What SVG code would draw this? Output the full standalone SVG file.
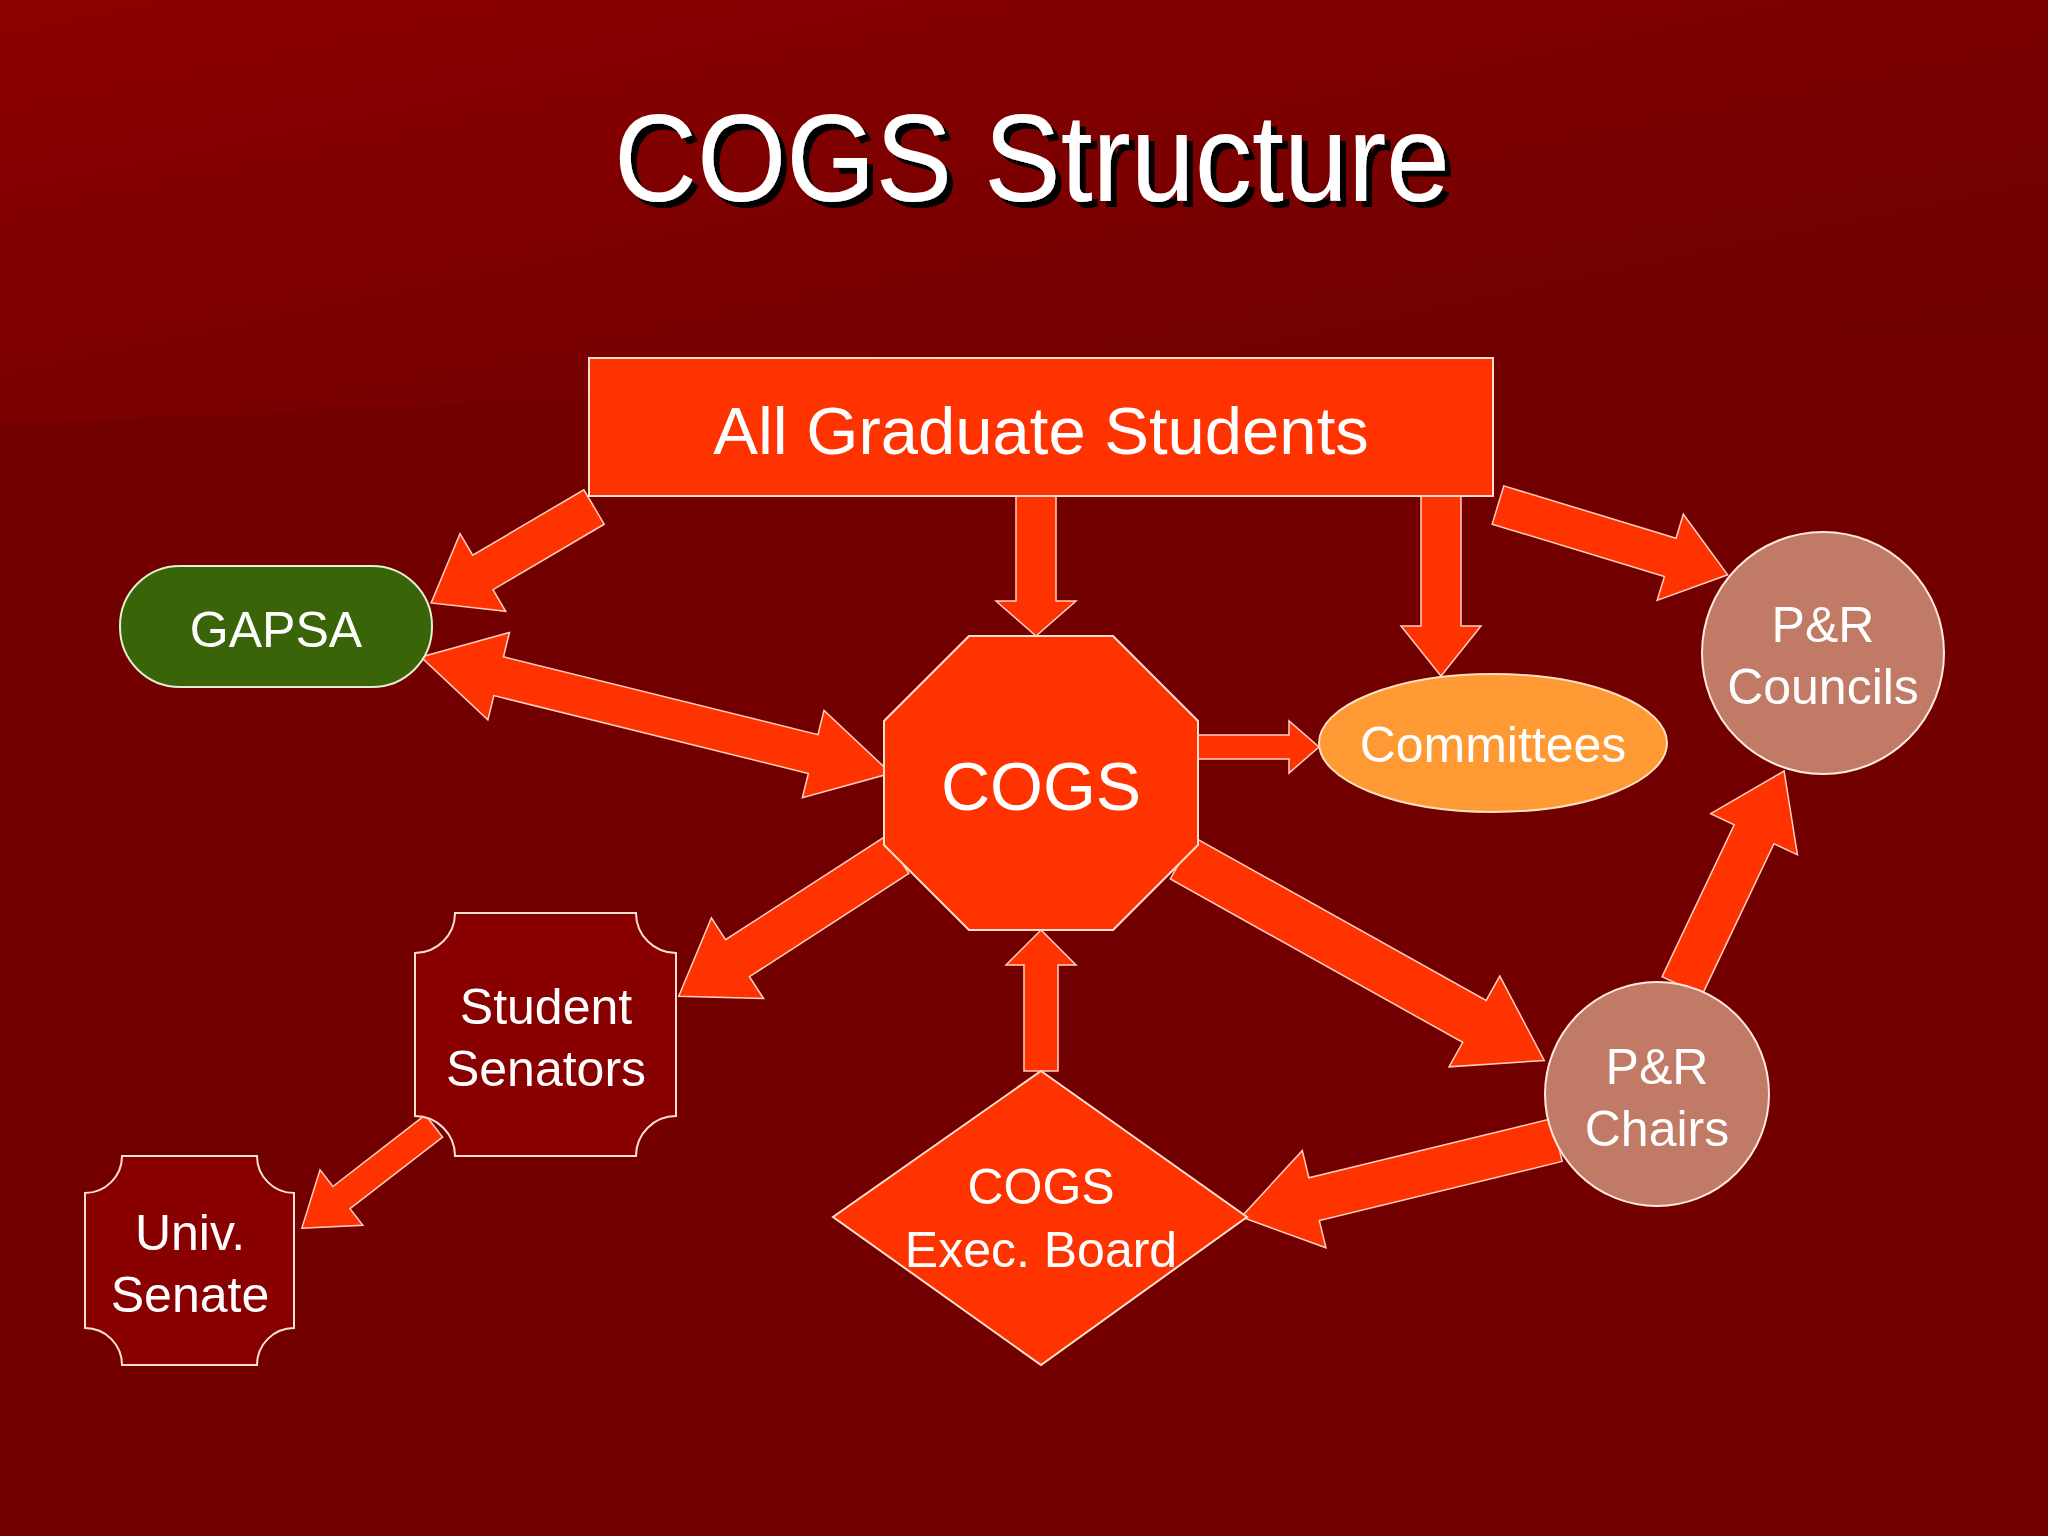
<svg xmlns="http://www.w3.org/2000/svg" width="2048" height="1536" viewBox="0 0 2048 1536">
<style>
.n{fill:#ff3300;stroke:#ffe0d0;stroke-width:2}
.a{fill:#ff3300;stroke:#ffd0c0;stroke-width:1.5}
.t{font-family:"Liberation Sans",Arial,sans-serif;fill:#fff;text-anchor:middle}
</style>
<defs>
<linearGradient id="bg" x1="0" y1="0" x2="1" y2="1">
<stop offset="0" stop-color="#8c0000"/><stop offset="1" stop-color="#6a0000"/>
</linearGradient>
<filter id="sh" x="-10%" y="-20%" width="120%" height="140%"><feDropShadow dx="6" dy="6" stdDeviation="0" flood-color="#000"/></filter>
</defs>
<rect width="2048" height="1536" fill="#720000"/>
<polygon points="0,0 2048,0 2048,330 0,425" fill="url(#bg)"/>
<text x="1032" y="201" class="t" font-size="124" filter="url(#sh)" textLength="836" lengthAdjust="spacingAndGlyphs">COGS Structure</text>
<g id="connectors">
<g transform="translate(594,507) rotate(149.5)"><polygon class="a" points="0,-20 129,-20 129,-45 189,0 129,45 129,20 0,20"/></g>
<g transform="translate(1036,496) rotate(90)"><polygon class="a" points="0,-20 105,-20 105,-40 140,0 105,40 105,20 0,20"/></g>
<g transform="translate(1441,496) rotate(90)"><polygon class="a" points="0,-20 130,-20 130,-40 180,0 130,40 130,20 0,20"/></g>
<g transform="translate(1498,505) rotate(16.9)"><polygon class="a" points="0,-20 180,-20 180,-45 240,0 180,45 180,20 0,20"/></g>
<g transform="translate(421,657) rotate(13.9)"><polygon class="a" points="0,0 80,-45 80,-20 404,-20 404,-45 484,0 404,45 404,20 80,20 80,45"/></g>
<g transform="translate(1198,747)"><polygon class="a" points="0,-12 91,-12 91,-26 121,0 91,26 91,12 0,12"/></g>
<g transform="translate(897,855) rotate(147.1)"><polygon class="a" points="0,-22 190,-22 190,-48 260,0 190,48 190,22 0,22"/></g>
<g transform="translate(1182,858) rotate(29.2)"><polygon class="a" points="0,-24 335,-24 335,-52 415,0 335,52 335,24 0,24"/></g>
<g transform="translate(1041,1071) rotate(-90)"><polygon class="a" points="0,-17 106,-17 106,-35 141,0 106,35 106,17 0,17"/></g>
<g transform="translate(1682,986) rotate(-64.6)"><polygon class="a" points="0,-22 168,-22 168,-48 238,0 168,48 168,22 0,22"/></g>
<g transform="translate(1557,1140) rotate(166.3)"><polygon class="a" points="0,-22 250,-22 250,-50 325,0 250,50 250,22 0,22"/></g>
<g transform="translate(434,1126) rotate(142.3)"><polygon class="a" points="0,-14 117,-14 117,-35 167,0 117,35 117,14 0,14"/></g>
</g>
<g id="ags"><rect class="n" x="589" y="358" width="904" height="138"/><text x="1041" y="454" class="t" font-size="67">All Graduate Students</text></g>
<g id="gapsa"><rect x="120" y="566" width="312" height="121" rx="60" fill="#3a6408" stroke="#e0f0d0" stroke-width="2"/><text x="276" y="647" class="t" font-size="50">GAPSA</text></g>
<g id="cogs"><polygon class="n" points="969,636 1113,636 1198,721 1198,845 1113,930 969,930 884,845 884,721"/><text x="1041" y="810" class="t" font-size="68">COGS</text></g>
<g id="committees"><ellipse cx="1493" cy="743" rx="174" ry="69" fill="#ff9933" stroke="#ffe0c0" stroke-width="2"/><text x="1493" y="762" class="t" font-size="50">Committees</text></g>
<g id="councils"><circle cx="1823" cy="653" r="121" fill="#c07a66" stroke="#ffe8e0" stroke-width="2"/><text x="1823" y="642" class="t" font-size="50">P&amp;R</text><text x="1823" y="704" class="t" font-size="50">Councils</text></g>
<g id="chairs"><circle cx="1657" cy="1094" r="112" fill="#c07a66" stroke="#ffe8e0" stroke-width="2"/><text x="1657" y="1084" class="t" font-size="50">P&amp;R</text><text x="1657" y="1146" class="t" font-size="50">Chairs</text></g>
<g id="senators"><path d="M455,913 H636 A40,40 0 0 0 676,953 V1116 A40,40 0 0 0 636,1156 H455 A40,40 0 0 0 415,1116 V953 A40,40 0 0 0 455,913 Z" fill="#880000" stroke="#ffe0d0" stroke-width="2"/><text x="546" y="1024" class="t" font-size="50">Student</text><text x="546" y="1086" class="t" font-size="50">Senators</text></g>
<g id="senate"><path d="M122,1156 H257 A37,37 0 0 0 294,1193 V1328 A37,37 0 0 0 257,1365 H122 A37,37 0 0 0 85,1328 V1193 A37,37 0 0 0 122,1156 Z" fill="#880000" stroke="#ffe0d0" stroke-width="2"/><text x="190" y="1250" class="t" font-size="50">Univ.</text><text x="190" y="1312" class="t" font-size="50">Senate</text></g>
<g id="exec"><polygon class="n" points="1041,1071 1247,1217 1041,1365 833,1217"/><text x="1041" y="1204" class="t" font-size="50">COGS</text><text x="1041" y="1267" class="t" font-size="50">Exec. Board</text></g>
</svg>
